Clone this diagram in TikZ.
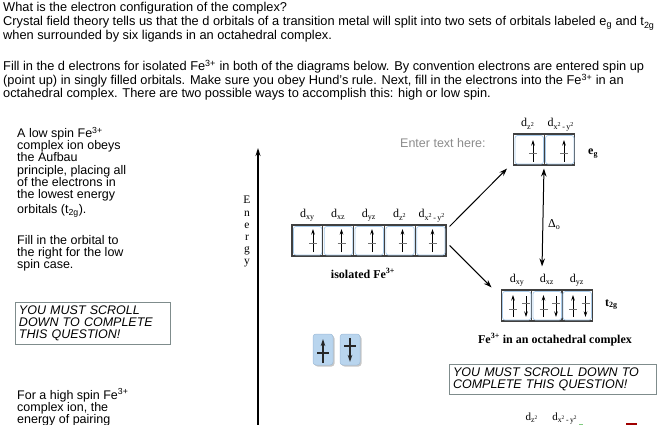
\documentclass[tikz,border=0pt]{standalone}
\usepackage{fontspec}
\setmainfont{Liberation Sans}
\newfontfamily\seriffam{Liberation Serif}
\usetikzlibrary{arrows.meta,calc}
\definecolor{cellblue}{HTML}{A9CBEA}
\definecolor{tileblue}{HTML}{B9D5EE}
\definecolor{tileedge}{HTML}{9DBBD8}
\definecolor{boxgray}{HTML}{7F8C8C}
\definecolor{darkred}{HTML}{A00000}
\definecolor{hintgray}{HTML}{8C8C8C}
\newcommand\spinup[4]{%
  \draw[spinline,-{Stealth[length=5.5pt,width=3.5pt]}] (#1,#3) -- (#1,#2);
  \draw[crossbar] ({#1-4},#4) -- ({#1+4},#4);}
\newcommand\spindown[4]{%
  \draw[spinline,-{Stealth[length=5.5pt,width=3.5pt]}] (#1,#2) -- (#1,#3);
  \draw[crossbar] ({#1-4},#4) -- ({#1+4},#4);}
\tikzset{
  txt/.style={anchor=base west, inner sep=0, font=\fontsize{12.5}{14}\selectfont},
  toptxt/.style={anchor=base west, inner sep=0, font=\fontsize{12.8}{14}\selectfont},
  lbl/.style={anchor=base, inner sep=0, font=\seriffam\fontsize{12}{14}\selectfont},
  blbl/.style={anchor=base, inner sep=0, font=\seriffam\bfseries\fontsize{12}{14}\selectfont},
  elet/.style={anchor=base, inner sep=0, font=\seriffam\fontsize{11.5}{12}\selectfont},
  cell/.style={draw=black!75, line width=1.1pt, minimum width=30.8pt, minimum height=31pt, inner sep=0},
  cellin/.style={draw=cellblue, line width=0.7pt, rounded corners=2.5pt},
  spinline/.style={line width=0.7pt, black},
  crossbar/.style={line width=0.7pt, black!55},
  conn/.style={line width=1pt, -{Stealth[length=8pt,width=5.5pt]}},
  scrollbox/.style={draw=boxgray, line width=1pt, align=left, inner sep=0,
     font=\itshape\fontsize{12.5}{12}\selectfont},
  tile/.style={fill=tileblue, draw=tileedge, line width=0.5pt, rounded corners=3pt,
     minimum width=20pt, minimum height=31pt, inner sep=0},
  tileshadow/.style={fill=black!22, rounded corners=3pt, minimum width=20pt, minimum height=31pt, inner sep=0},
  tilearrow/.style={line width=1.3pt, black!85}
}
\begin{document}
\begin{tikzpicture}[x=1pt,y=-1pt]
\useasboundingbox (0,0) rectangle (670,425);
% ---- question text
\node[toptxt] (q1) at (3,12) {What is the electron configuration of the complex?};
\node[toptxt] (q2) at (3,26) {Crystal field theory tells us that the d orbitals of a transition metal will split into two sets of orbitals labeled e\textsubscript{g} and t\textsubscript{2g}};
\node[toptxt] (q3) at (3,40) {when surrounded by six ligands in an octahedral complex.};
\node[toptxt] (q4) at (3,71) {Fill in the d electrons for isolated Fe\textsuperscript{3+} in both of the diagrams below. By convention electrons are entered spin up};
\node[toptxt] (q5) at (3,85) {(point up) in singly filled orbitals. Make sure you obey Hund's rule. Next, fill in the electrons into the Fe\textsuperscript{3+} in an};
\node[toptxt] (q6) at (3,98) {octahedral complex. There are two possible ways to accomplish this: high or low spin.};
% ---- left column
\node[txt] (a1) at (17,138) {A low spin Fe\textsuperscript{3+}};
\node[txt] (a2) at (17,150) {complex ion obeys};
\node[txt] (a3) at (17,162) {the Aufbau};
\node[txt] (a4) at (17,174.5) {principle, placing all};
\node[txt] (a5) at (17,186.5) {of the electrons in};
\node[txt] (a6) at (17,199) {the lowest energy};
\node[txt] (a7) at (17,214) {orbitals (t\textsubscript{2g}).};
\node[txt] (b1) at (17,244) {Fill in the orbital to};
\node[txt] (b2) at (17,256) {the right for the low};
\node[txt] (b3) at (17,268) {spin case.};
\node[scrollbox, minimum width=155pt, minimum height=42pt, text width=147pt] (sb1) at (92.5,323) {YOU MUST SCROLL\\DOWN TO COMPLETE\\THIS QUESTION!};
\node[txt] (c1) at (17,399) {For a high spin Fe\textsuperscript{3+}};
\node[txt] (c2) at (17,411) {complex ion, the};
\node[txt] (c3) at (17,423) {energy of pairing};
% ---- energy axis
\coordinate (ebot) at (258,425);
\coordinate (etop) at (258,148);
\draw[line width=1.2pt, -{Stealth[length=8pt,width=5pt]}] (ebot) -- (etop);
\node[elet] (e1) at (247,204) {E};
\node[elet] (e2) at (247,216.2) {n};
\node[elet] (e3) at (247,228.4) {e};
\node[elet] (e4) at (247,240.6) {r};
\node[elet] (e5) at (247,252.8) {g};
\node[elet] (e6) at (247,265) {y};
\node[txt, text=hintgray] (enter) at (400,148) {Enter text here:};
% ---- isolated ion
\foreach \n/\x in {1/307.4,2/338.2,3/369.0,4/399.8,5/430.6}{
  \node[cell] (i\n) at (\x,240.5) {};
  \draw[cellin] ([shift={(2,2)}]i\n.north west) rectangle ([shift={(-1.5,-1.5)}]i\n.south east);
}
\node[lbl] (li1) at (307.4,218) {d\textsubscript{xy}};
\node[lbl] (li2) at (338.2,218) {d\textsubscript{xz}};
\node[lbl] (li3) at (369.0,218) {d\textsubscript{yz}};
\node[lbl] (li4) at (399.8,218) {d\textsubscript{z\textsuperscript{2}}};
\node[lbl] (li5) at (432,218) {d\textsubscript{x\textsuperscript{2}\,-\,y\textsuperscript{2}}};
\spinup{313}{229}{252}{243}
\spinup{341.5}{229}{252}{243}
\spinup{372}{229}{252}{243}
\spinup{402.5}{229}{252}{243}
\spinup{432.5}{229}{252}{243}
\node[blbl] (iso) at (363,278) {isolated Fe\textsuperscript{3+}};
% ---- e_g set
\node[cell] (g1) at (529,149.5) {};
\node[cell] (g2) at (559.5,149.5) {};
\foreach \n in {1,2}{
  \draw[cellin] ([shift={(2,2)}]g\n.north west) rectangle ([shift={(-1.5,-1.5)}]g\n.south east);
}
\node[lbl] (lg1) at (528,127) {d\textsubscript{z\textsuperscript{2}}};
\node[lbl] (lg2) at (561,127) {d\textsubscript{x\textsuperscript{2}\,-\,y\textsuperscript{2}}};
\spinup{533}{140}{162}{153}
\spinup{564}{140}{162}{153}
\node[anchor=base west, inner sep=0, font=\seriffam\bfseries\fontsize{12}{14}\selectfont] (eg) at (588,155) {e\textsubscript{g}};
% ---- t_2g set
\node[cell] (t1) at (516.5,305.5) {};
\node[cell] (t2) at (547,305.5) {};
\node[cell] (t3) at (577,305.5) {};
\foreach \n in {1,2,3}{
  \draw[cellin] ([shift={(2,2)}]t\n.north west) rectangle ([shift={(-1.5,-1.5)}]t\n.south east);
}
\node[lbl] (lt1) at (517,283) {d\textsubscript{xy}};
\node[lbl] (lt2) at (547,283) {d\textsubscript{xz}};
\node[lbl] (lt3) at (577,283) {d\textsubscript{yz}};
\spinup{513}{295}{317}{309}
\spindown{526}{296}{317}{303}
\spinup{543.5}{295}{317}{309}
\spindown{556}{296}{317}{303}
\spinup{573}{295}{317}{309}
\spindown{585.5}{296}{317}{303}
\node[anchor=base west, inner sep=0, font=\seriffam\bfseries\fontsize{12}{14}\selectfont] (t2g) at (605,306) {t\textsubscript{2g}};
\node[blbl] (oct) at (555,343) {Fe\textsuperscript{3+} in an octahedral complex};
% ---- connectors
\draw[conn] ($(i5.north east)+(3,2)$) -- ($(g1.south west)+(-6,3)$);
\draw[conn] ($(i5.east)+(3,5)$) -- ($(t1.north west)+(-9,-2)$);
\coordinate (dtop) at ($(g1.south east)+(-1,3)$);
\coordinate (dbot) at ($(t2.north west)+(11,-23)$);
\draw[line width=1pt, {Stealth[length=8pt,width=5.5pt]}-{Stealth[length=8pt,width=5.5pt]}] (dtop) -- (dbot);
\node[anchor=base west, inner sep=0, font=\seriffam\fontsize{12}{14}\selectfont] (delta) at (548,228) {Δ\textsubscript{o}};
% ---- spin tiles
\node[tileshadow] (tsh1) at (324.5,351) {};
\node[tileshadow] (tsh2) at (351.5,351) {};
\node[tile] (tileup) at (323,349.5) {};
\node[tile] (tiledn) at (350,349.5) {};
\draw[tilearrow,-{Stealth[length=7pt,width=4.5pt]}] (323,363) -- (323,339);
\draw[tilearrow] (317,353) -- (329,353);
\draw[tilearrow,-{Stealth[length=7pt,width=4.5pt]}] (350,338) -- (350,362);
\draw[tilearrow] (344,346) -- (356,346);
% ---- second scroll box
\node[scrollbox, minimum width=207pt, minimum height=30pt, text width=199pt] (sb2) at (552.5,379) {YOU MUST SCROLL DOWN TO\\COMPLETE THIS QUESTION!};
% ---- bottom, cut-off labels
\node[lbl, font=\seriffam\fontsize{11}{12}\selectfont] (lb1) at (532,420) {d\textsubscript{z\textsuperscript{2}}};
\node[lbl, font=\seriffam\fontsize{11}{12}\selectfont] (lb2) at (565,420) {d\textsubscript{x\textsuperscript{2}\,-\,y\textsuperscript{2}}};
\draw[darkred, line width=2pt] (626,424) -- (637,424);
\draw[green!60!black!50, line width=1pt] (579,424.5) -- (583,424.5);
\end{tikzpicture}
\end{document}
